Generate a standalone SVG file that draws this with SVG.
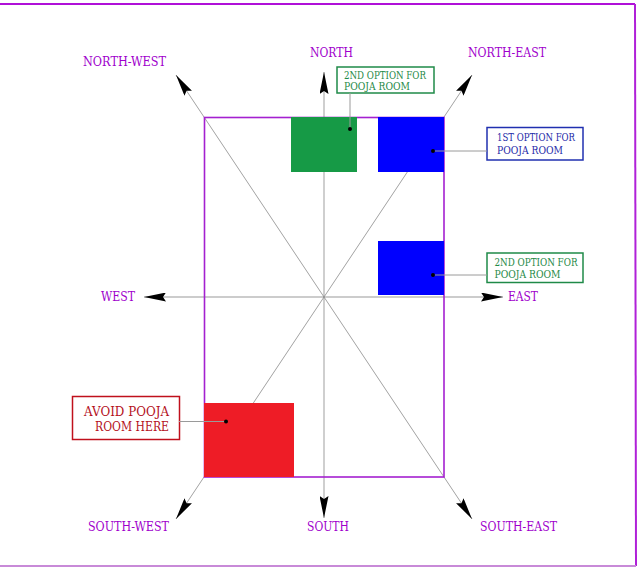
<svg xmlns="http://www.w3.org/2000/svg" width="640" height="569" viewBox="0 0 640 569">
<style>
.dir{font-family:"DejaVu Serif","Liberation Serif",serif;font-size:12.5px;fill:#a000cc}
.lbl{font-family:"DejaVu Serif","Liberation Serif",serif;font-size:10.5px}
.axis{stroke:#999;stroke-width:1;fill:none}
.diag{stroke:#8a8a8a;stroke-width:0.8;fill:none}
.vert{stroke:#cfcfcf;stroke-width:2;fill:none}
.lead{stroke:#9a9a9a;stroke-width:1;fill:none}
.dot{fill:#000}
</style>
<defs>
<marker id="ah" viewBox="0 0 22 9" refX="22" refY="4.5" markerWidth="22" markerHeight="9" markerUnits="userSpaceOnUse" orient="auto">
<path d="M0,0 L22,4.5 L0,9 L3,4.5 Z" fill="#000"/>
</marker>
</defs>
<rect x="0" y="0" width="640" height="569" fill="#fff"/>
<g id="frame" fill="none">
<line x1="0" y1="4" x2="635" y2="4" stroke="#b010d8" stroke-width="2"/>
<line x1="635" y1="4" x2="636" y2="566" stroke="#b020d8" stroke-width="2"/>
<line x1="0" y1="566" x2="636" y2="566" stroke="#c88ad8" stroke-width="2"/>
</g>
<g id="axes">
<line class="vert" x1="324" y1="297" x2="324" y2="72" marker-end="url(#ah)"/>
<line class="vert" x1="324" y1="297" x2="324" y2="518" marker-end="url(#ah)"/>
<line class="axis" x1="324" y1="297" x2="144" y2="297" marker-end="url(#ah)"/>
<line class="axis" x1="324" y1="297" x2="503" y2="297" marker-end="url(#ah)"/>
<line class="diag" x1="324" y1="297" x2="176" y2="75" marker-end="url(#ah)"/>
<line class="diag" x1="324" y1="297" x2="472" y2="75" marker-end="url(#ah)"/>
<line class="diag" x1="324" y1="297" x2="176" y2="519" marker-end="url(#ah)"/>
<line class="diag" x1="324" y1="297" x2="472" y2="519" marker-end="url(#ah)"/>
</g>
<g id="plan">
<rect x="204.5" y="117.5" width="239.5" height="359.5" fill="none" stroke="#a420d0" stroke-width="1.6"/>
</g>
<g id="green-room"><rect x="291" y="117" width="66" height="55" fill="#169a46"/></g>
<g id="blue-room-1"><rect x="378" y="117" width="66" height="55" fill="#0000ff"/></g>
<g id="blue-room-2"><rect x="378" y="241" width="66" height="54" fill="#0000ff"/></g>
<g id="red-room"><rect x="204" y="403" width="90" height="74" fill="#ee1c26"/></g>
<g id="label-north-option">
<rect x="337" y="67" width="97" height="26" fill="#fff" stroke="#1f8a48" stroke-width="1.5"/>
<text class="lbl" fill="#1f8a48" x="344" y="78.5" textLength="82" lengthAdjust="spacingAndGlyphs">2ND OPTION FOR</text>
<text class="lbl" fill="#1f8a48" x="344" y="90" textLength="66" lengthAdjust="spacingAndGlyphs">POOJA ROOM</text>
</g>
<g id="label-first-option">
<rect x="487" y="127.5" width="96" height="32.5" fill="#fff" stroke="#2030b0" stroke-width="1.5"/>
<text class="lbl" fill="#1e2aa8" x="497" y="141" textLength="78" lengthAdjust="spacingAndGlyphs">1ST OPTION FOR</text>
<text class="lbl" fill="#1e2aa8" x="497" y="153.5" textLength="66" lengthAdjust="spacingAndGlyphs">POOJA ROOM</text>
</g>
<g id="label-east-option">
<rect x="487" y="253" width="96" height="29.5" fill="#fff" stroke="#1f8a48" stroke-width="1.5"/>
<text class="lbl" fill="#1f8a48" x="494.5" y="266" textLength="83" lengthAdjust="spacingAndGlyphs">2ND OPTION FOR</text>
<text class="lbl" fill="#1f8a48" x="494.5" y="277.5" textLength="66" lengthAdjust="spacingAndGlyphs">POOJA ROOM</text>
</g>
<g id="label-avoid">
<rect x="72.5" y="396.5" width="107" height="43" fill="#fff" stroke="#c0101c" stroke-width="1.5"/>
<text class="lbl" style="font-size:12px" fill="#b4101c" x="84" y="416" textLength="85" lengthAdjust="spacingAndGlyphs">AVOID POOJA</text>
<text class="lbl" style="font-size:12px" fill="#b4101c" x="95" y="430.5" textLength="74" lengthAdjust="spacingAndGlyphs">ROOM HERE</text>
</g>
<g id="connectors">
<line class="lead" x1="350" y1="93" x2="350" y2="129"/>
<circle class="dot" cx="350" cy="129" r="2"/>
<line class="lead" x1="433" y1="151" x2="487" y2="151"/>
<circle class="dot" cx="433" cy="151" r="2"/>
<line class="lead" x1="433" y1="275" x2="487" y2="275"/>
<circle class="dot" cx="433" cy="275" r="2"/>
<line class="lead" x1="179" y1="421.5" x2="226" y2="421.5"/>
<circle class="dot" cx="226" cy="421.5" r="2"/>
</g>
<g id="directions">
<text class="dir" x="83" y="66" textLength="83" lengthAdjust="spacingAndGlyphs">NORTH-WEST</text>
<text class="dir" x="310" y="57" textLength="43" lengthAdjust="spacingAndGlyphs">NORTH</text>
<text class="dir" x="468" y="57" textLength="78" lengthAdjust="spacingAndGlyphs">NORTH-EAST</text>
<text class="dir" x="101" y="301" textLength="34" lengthAdjust="spacingAndGlyphs">WEST</text>
<text class="dir" x="508" y="301" textLength="30" lengthAdjust="spacingAndGlyphs">EAST</text>
<text class="dir" x="88" y="531" textLength="81" lengthAdjust="spacingAndGlyphs">SOUTH-WEST</text>
<text class="dir" x="307" y="531" textLength="42" lengthAdjust="spacingAndGlyphs">SOUTH</text>
<text class="dir" x="480" y="531" textLength="77" lengthAdjust="spacingAndGlyphs">SOUTH-EAST</text>
</g>
</svg>
